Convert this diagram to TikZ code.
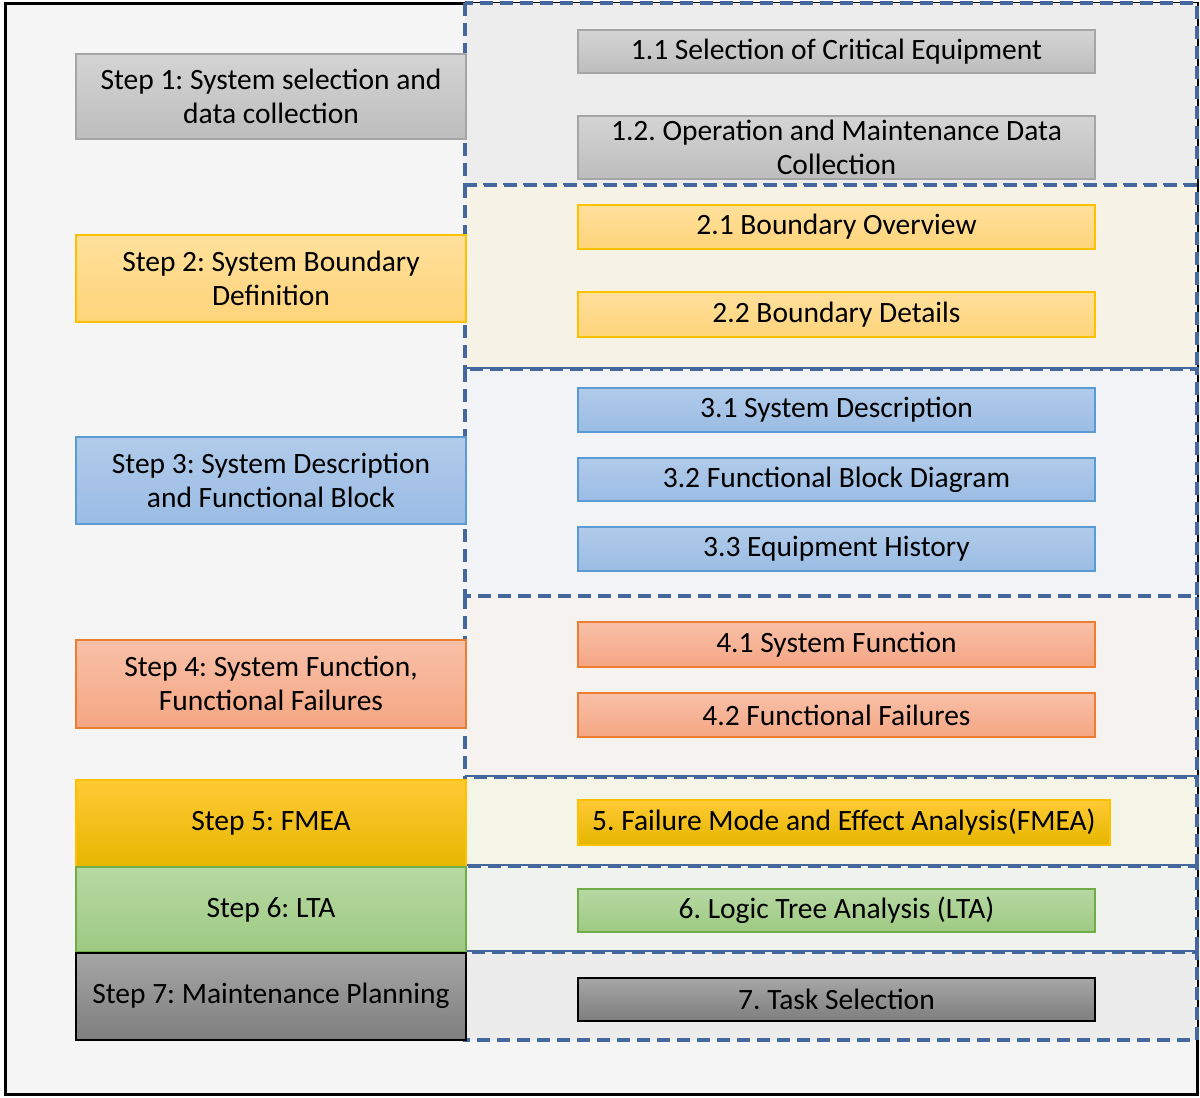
\documentclass[tikz,border=0pt]{standalone}
\usepackage{fontspec}
\setmainfont{Carlito}
\usepackage{xcolor}
\definecolor{framebg}{HTML}{F5F5F5}
\definecolor{dashblue}{HTML}{44689E}
\definecolor{panelone}{HTML}{EDEDED}
\definecolor{paneltwo}{HTML}{F6F2E5}
\definecolor{panelthree}{HTML}{F1F3F7}
\definecolor{panelfour}{HTML}{F6F2F0}
\definecolor{panelfive}{HTML}{F5F5E7}
\definecolor{panelsix}{HTML}{F0F2EE}
\definecolor{panelseven}{HTML}{ECECEC}
\definecolor{greytop}{HTML}{D4D4D4}
\definecolor{greybot}{HTML}{BDBDBD}
\definecolor{greyline}{HTML}{A5A5A5}
\definecolor{sandtop}{HTML}{FFE09C}
\definecolor{sandbot}{HTML}{FFD47A}
\definecolor{sandline}{HTML}{FFC000}
\definecolor{bluetop}{HTML}{B1CBEA}
\definecolor{bluebot}{HTML}{9ABCE4}
\definecolor{blueline}{HTML}{5B9BD5}
\definecolor{salmtop}{HTML}{F8C0A8}
\definecolor{salmbot}{HTML}{F5A683}
\definecolor{salmline}{HTML}{ED7D31}
\definecolor{goldtop}{HTML}{FFCA35}
\definecolor{goldmid}{HTML}{FFC000}
\definecolor{goldbot}{HTML}{E5B600}
\definecolor{greentop}{HTML}{B6D8A2}
\definecolor{greenbot}{HTML}{9ECA83}
\definecolor{greenline}{HTML}{70AD47}
\definecolor{darktop}{HTML}{A6A6A6}
\definecolor{darkbot}{HTML}{7E7E7E}
\newcommand{\boxtext}{\fontsize{29.5}{34}\selectfont\frenchspacing}

\begin{document}
\begin{tikzpicture}[x=1pt,y=-1pt,line join=miter,
    stepbox/.style={draw,rectangle,line width=2pt,minimum width=390pt,inner sep=0pt,align=center,font=\boxtext},
    subbox/.style={draw,rectangle,line width=2pt,minimum width=517pt,inner sep=0pt,align=center,font=\boxtext},
    panel/.style={draw=dashblue,line width=3.5pt,dash pattern=on 13pt off 7pt},
    greybox/.style={top color=greytop,bottom color=greybot,draw=greyline},
    sandbox/.style={top color=sandtop,bottom color=sandbot,draw=sandline},
    bluebox/.style={top color=bluetop,bottom color=bluebot,draw=blueline},
    salmbox/.style={top color=salmtop,bottom color=salmbot,draw=salmline},
    goldbox/.style={top color=goldtop,middle color=goldmid,bottom color=goldbot,draw=goldmid},
    greenbox/.style={top color=greentop,bottom color=greenbot,draw=greenline},
    darkbox/.style={top color=darktop,bottom color=darkbot,draw=black}]
            \useasboundingbox (0,0) rectangle (1200,1098);
            %
            \draw [black,line width=3pt,fill=framebg] (5,3) rectangle (1197,1094);
            %
            \draw [panel,fill=panelone] (465,3) rectangle (1197,185);
            \draw [panel,fill=paneltwo] (465,185) rectangle (1197,369);
            \draw [panel,fill=panelthree] (465,369) rectangle (1197,596);
            \draw [panel,fill=panelfour] (465,596) rectangle (1197,777);
            \draw [panel,fill=panelfive] (465,777) rectangle (1197,866);
            \draw [panel,fill=panelsix] (465,866) rectangle (1197,952);
            \draw [panel,fill=panelseven] (465,952) rectangle (1197,1040);
            %
            \node (step1) at (271,96.5) [stepbox,greybox,minimum height=85pt] {Step 1: System selection and\\data collection};
            \node (step2) at (271,278) [stepbox,sandbox,minimum height=87pt] {Step 2: System Boundary\\Definition};
            \node (step3) at (271,480) [stepbox,bluebox,minimum height=87pt] {Step 3: System Description\\and Functional Block};
            \node (step4) at (271,683.5) [stepbox,salmbox,minimum height=88pt] {Step 4: System Function,\\Functional Failures};
            \node (step5) at (271,823.5) [stepbox,goldbox,minimum height=87pt] {Step 5: FMEA};
            \node (step6) at (271,909.5) [stepbox,greenbox,minimum height=85pt] {Step 6: LTA};
            \node (step7) at (271,996) [stepbox,darkbox,minimum height=87pt] {Step 7: Maintenance Planning};
            %
            \node (sel) at (836.5,51.5) [subbox,greybox,minimum height=43pt] {1.1 Selection of Critical Equipment};
            \node (data) at (836.5,147.5) [subbox,greybox,minimum height=63pt] {1.2. Operation and Maintenance Data\\Collection};
            %
            \node (overview) at (836.5,227) [subbox,sandbox,minimum height=44pt] {2.1 Boundary Overview};
            \node (details) at (836.5,314.5) [subbox,sandbox,minimum height=45pt] {2.2 Boundary Details};
            %
            \node (descr) at (836.5,410) [subbox,bluebox,minimum height=44pt] {3.1 System Description};
            \node (block) at (836.5,479.5) [subbox,bluebox,minimum height=43pt] {3.2 Functional Block Diagram};
            \node (history) at (836.5,549) [subbox,bluebox,minimum height=44pt] {3.3 Equipment History};
            %
            \node (function) at (836.5,644.5) [subbox,salmbox,minimum height=45pt] {4.1 System Function};
            \node (failures) at (836.5,715) [subbox,salmbox,minimum height=44pt] {4.2 Functional Failures};
            %
            \node (fmea) at (844,822.5) [subbox,goldbox,minimum width=532pt,minimum height=45pt] {5. Failure Mode and Effect Analysis(FMEA)};
            \node (lta) at (836.5,910.5) [subbox,greenbox,minimum height=43pt] {6. Logic Tree Analysis (LTA)};
            \node (tasks) at (836.5,999.5) [subbox,darkbox,minimum height=43pt] {7. Task Selection};
            %
\end{tikzpicture}
\end{document}
